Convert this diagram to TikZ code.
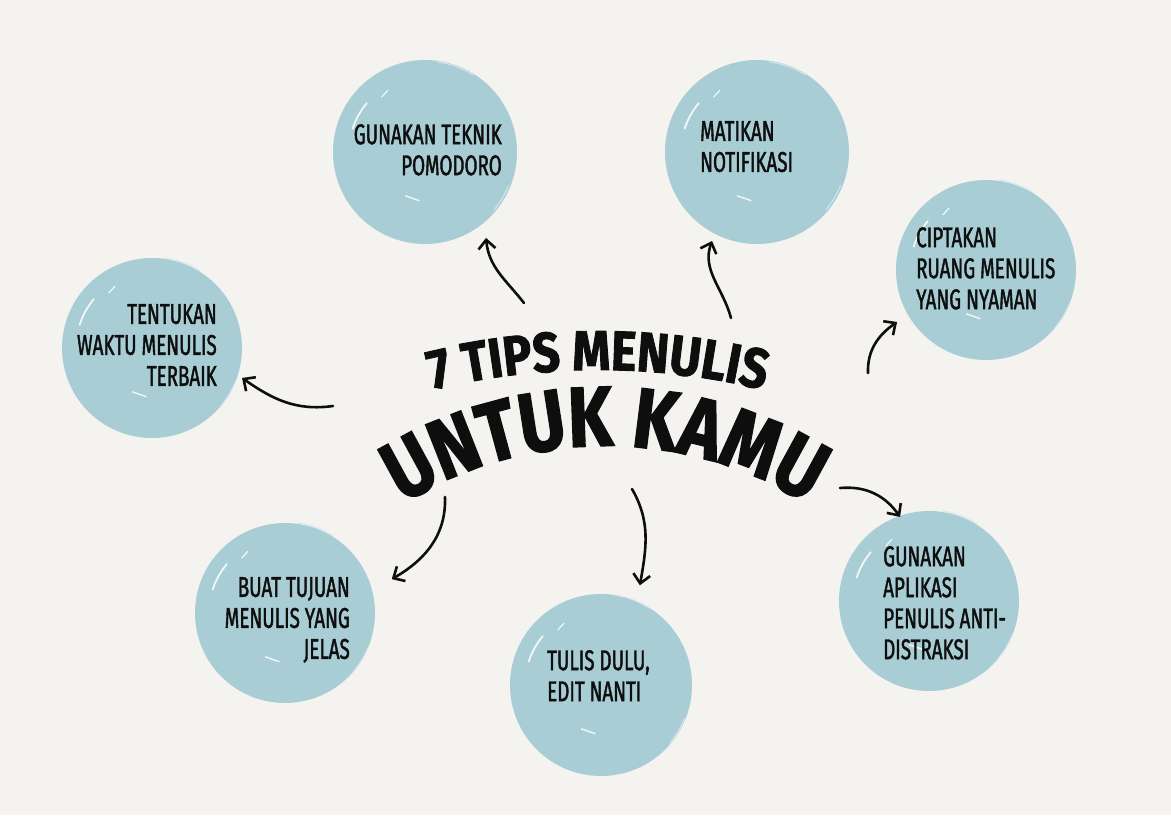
\documentclass[tikz,border=0pt]{standalone}
\usepackage{fontspec}
\setmainfont{Fira Sans}
\newfontfamily\labfont[FakeStretch=0.66, FakeBold=1.4]{Fira Sans}
\newfontfamily\titfont[FakeStretch=0.86, BoldFeatures={FakeBold=1.6}]{Fira Sans}
\newfontfamily\titfontb[FakeStretch=0.83, BoldFeatures={FakeBold=1.8}]{Fira Sans}
\usetikzlibrary{arrows.meta,decorations.text,calc}
\definecolor{paper}{HTML}{F4F3F0}
\definecolor{cfill}{HTML}{A8CDD5}
\definecolor{ink}{HTML}{0E0E0E}
\begin{document}
\begin{tikzpicture}[x=1pt,y=1pt,
  bub/.style={circle, fill=cfill, inner sep=0pt, minimum size=#1},
  lab/.style={font=\labfont\fontsize{28.5}{31}\selectfont, inner sep=0pt, text=ink},
  arr/.style={draw=ink, line width=2.6pt, line cap=round, -{Straight Barb[length=9pt,width=17pt]}},
  hl/.style={draw=white, line width=1.8pt, line cap=round, opacity=0.85}]
\fill[paper] (0,0) rectangle (1171,815);
\useasboundingbox (0,0) rectangle (1171,815);

% bubbles
\node[bub=184pt] (c1) at (425,663) {};
\node[bub=184pt] (c2) at (757,663) {};
\node[bub=180pt] (c3) at (986,545) {};
\node[bub=180pt] (c4) at (152,467) {};
\node[bub=180pt] (c5) at (285,202) {};
\node[bub=182pt] (c6) at (601,130) {};
\node[bub=180pt] (c7) at (929,214) {};

% highlights
\foreach \c in {c1,c2,c3,c4,c5,c6,c7} {
  \draw[hl] ($(\c)+(162:76)$) arc[start angle=162, end angle=140, radius=76];
  \draw[hl, line width=1.2pt] ($(\c)+(128:70)$) -- ($(\c)+(121:72)$);
  \draw[hl, line width=1.4pt] ($(\c)+(-114:48)$) -- ($(\c)+(-97:49)$);
  \draw[hl, line width=1.2pt, draw=white!55!cfill] ($(\c)+(82:91)$) arc[start angle=82, end angle=58, radius=91];
  \draw[hl, line width=1.2pt, draw=white!55!cfill] ($(\c)+(-22:90)$) arc[start angle=-22, end angle=-40, radius=90];
}

% labels
\node[lab, anchor=north east, align=right] (t1) at (502,691) {GUNAKAN TEKNIK\\POMODORO};
\node[lab, anchor=north west, align=left] (t2) at (700,694) {MATIKAN\\NOTIFIKASI};
\node[lab, anchor=north west, align=left] (t3) at (916,588) {CIPTAKAN\\RUANG MENULIS\\YANG NYAMAN};
\node[lab, anchor=north east, align=right] (t4) at (217,511) {TENTUKAN\\WAKTU MENULIS\\TERBAIK};
\node[lab, anchor=north east, align=right] (t5) at (350,238) {BUAT TUJUAN\\MENULIS YANG\\JELAS};
\node[lab, anchor=north west, align=left] (t6) at (547,165) {TULIS DULU,\\EDIT NANTI};
\node[lab, anchor=north west, align=left] (t7) at (883,269) {GUNAKAN\\APLIKASI\\PENULIS ANTI-\\DISTRAKSI};

% title
\coordinate (T1) at (598,-255);
\coordinate (T2) at (605,-12);
\path[decorate, decoration={text along path, text align=center, text color=ink,
  text={|\titfont\bfseries\fontsize{56}{56}\selectfont|7 TIPS MENULIS}}]
  ($(T1)+(110:700)$) arc[start angle=110, end angle=70, radius=700];
\path[decorate, decoration={text along path, text align=center, text color=ink,
  text={|\titfontb\bfseries\fontsize{85}{85}\selectfont|UNTUK KAMU}}]
  ($(T2)+(135:381)$) arc[start angle=135, end angle=45, radius=381];

% connectors
\coordinate (s1) at (524,512); \coordinate (e1) at ($(c1)+(-54.6:105.4)$);
\coordinate (s2) at (731,497); \coordinate (e2) at ($(c2)+(-116.8:99.7)$);
\coordinate (s3) at (868,442); \coordinate (e3) at ($(c3)+(-149.7:103)$);
\coordinate (s4) at (333,409); \coordinate (e4) at ($(c4)+(-18.4:94.9)$);
\coordinate (s5) at (445,318); \coordinate (e5) at ($(c5)+(17.6:112)$);
\coordinate (s6) at (632,326); \coordinate (e6) at ($(c6)+(68.7:107)$);
\coordinate (s7) at (840,327); \coordinate (e7) at ($(c7)+(109:88.9)$);
\draw[arr] (s1) to[out=128,in=-85] (e1);
\draw[arr] (s2) to[out=105,in=-110] (e2);
\draw[arr] (s3) to[out=92,in=-145] (e3);
\draw[arr] (s4) to[out=188,in=-35] (e4);
\draw[arr] (s5) to[out=-88,in=30] (e5);
\draw[arr] (s6) to[out=-60,in=80] (e6);
\draw[arr] (s7) to[out=5,in=125] (e7);
\end{tikzpicture}
\end{document}
